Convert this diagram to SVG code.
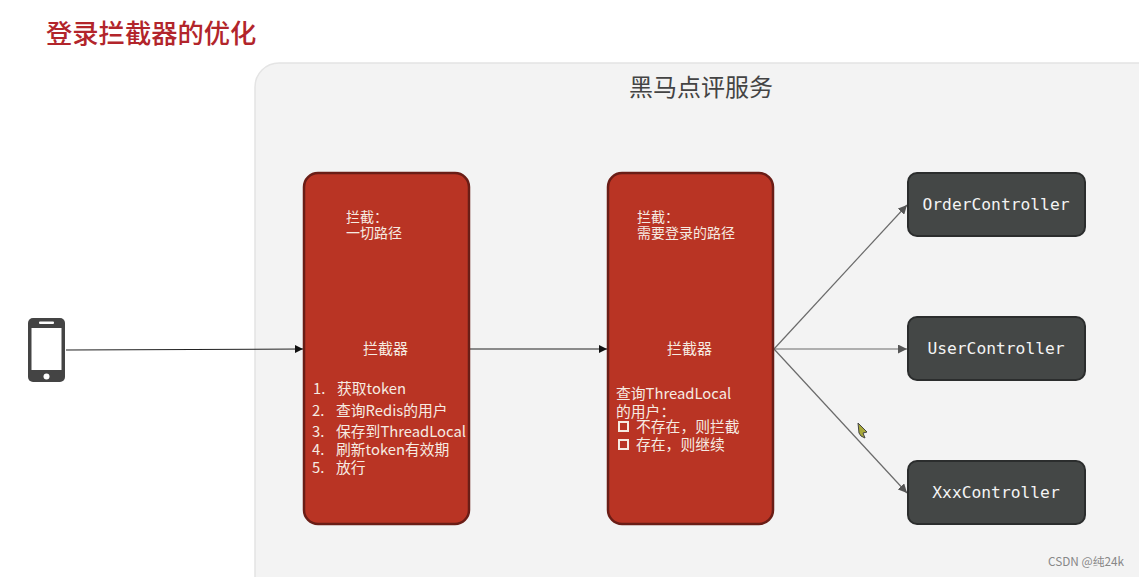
<svg xmlns="http://www.w3.org/2000/svg" width="1139" height="577" viewBox="0 0 1139 577">
<style>
text{font-family:"Noto Sans CJK SC","Noto Sans",sans-serif}
.r{fill:#b93424;stroke:#6a1d16;stroke-width:2.5}
.d{fill:#444746;stroke:#2b2d2d;stroke-width:2}
.w{fill:#f6ebe2;font-size:14px}
.b{fill:#f6ebe2;font-size:14.8px}
.h{fill:#f6ebe2;font-size:15px}
.m{fill:#f4f4f4;font-family:"DejaVu Sans Mono","Liberation Mono",monospace;font-size:16.300px;text-anchor:middle}
.l{fill:none;stroke:#6a6a6a;stroke-width:1.2}
.k{fill:none;stroke:#222;stroke-width:1.1}
.c{fill:none;stroke:#f6ebe2;stroke-width:2}
</style>
<defs>
<marker id="ab" markerWidth="9" markerHeight="8" refX="8" refY="4" orient="auto" markerUnits="userSpaceOnUse"><path d="M0 0L8 4L0 8Z" fill="#111"/></marker>
<marker id="ag" markerWidth="10" markerHeight="9" refX="9" refY="4.500" orient="auto" markerUnits="userSpaceOnUse"><path d="M0 0L9 4.500L0 9Z" fill="#555"/></marker>
</defs>
<rect width="1139" height="577" fill="#fff"/>
<rect x="255" y="63" width="920" height="540" rx="24" fill="#f3f3f3" stroke="#e4e4e4" stroke-width="1.500"/>
<text x="46" y="43" font-size="26.300" font-weight="500" fill="#b2252b">登录拦截器的优化</text>
<text x="629" y="96" font-size="24" fill="#444">黑马点评服务</text>
<g id="connectors">
<line class="k" x1="66" y1="350" x2="303" y2="349" marker-end="url(#ab)"/>
<line class="k" x1="470" y1="349" x2="607" y2="349" marker-end="url(#ab)"/>
<line class="l" x1="774" y1="349" x2="907" y2="205" marker-end="url(#ag)"/>
<line class="l" x1="774" y1="349" x2="907" y2="349" marker-end="url(#ag)"/>
<line class="l" x1="774" y1="349" x2="907" y2="493" marker-end="url(#ag)"/>
</g>
<g id="phone">
<rect x="28" y="318" width="37" height="64" rx="5" fill="#444"/>
<rect x="31.500" y="328" width="30" height="42" fill="#fff"/>
<rect x="39" y="321.500" width="15" height="2.500" rx="1" fill="#fff"/>
<circle cx="46.500" cy="376.500" r="3" fill="#fff"/>
</g>
<g id="interceptor1">
<rect class="r" x="304" y="173" width="165" height="351" rx="14"/>
<text class="w" x="346" y="222">拦截：<tspan x="346" dy="16">一切路径</tspan></text>
<text class="h" x="363" y="354">拦截器</text>
<text class="b"><tspan x="313" y="394">1.</tspan><tspan x="337" y="394">获取token</tspan></text>
<text class="b"><tspan x="312" y="416">2.</tspan><tspan x="336" y="416">查询Redis的用户</tspan></text>
<text class="b"><tspan x="312" y="437">3.</tspan><tspan x="336" y="437">保存到ThreadLocal</tspan></text>
<text class="b"><tspan x="312" y="455">4.</tspan><tspan x="336" y="455">刷新token有效期</tspan></text>
<text class="b"><tspan x="312" y="473">5.</tspan><tspan x="336" y="473">放行</tspan></text>
</g>
<g id="interceptor2">
<rect class="r" x="608" y="173" width="165" height="351" rx="14"/>
<text class="w" x="637" y="222">拦截：<tspan x="637" dy="16">需要登录的路径</tspan></text>
<text class="h" x="667" y="354">拦截器</text>
<text class="b" x="616" y="399">查询ThreadLocal<tspan x="616" dy="18">的用户：</tspan></text>
<rect class="c" x="619" y="422" width="9" height="9"/>
<text class="b" x="636" y="432">不存在，则拦截<tspan x="636" dy="18">存在，则继续</tspan></text>
<rect class="c" x="619" y="440" width="9" height="9"/>
</g>
<g id="orderController">
<rect class="d" x="908" y="173" width="177" height="63" rx="9"/>
<text class="m" x="996" y="210">OrderController</text>
</g>
<g id="userController">
<rect class="d" x="908" y="317" width="177" height="63" rx="9"/>
<text class="m" x="996" y="354">UserController</text>
</g>
<g id="xxxController">
<rect class="d" x="908" y="461" width="177" height="63" rx="9"/>
<text class="m" x="996" y="498">XxxController</text>
</g>
<path d="M858 423L867 432L863 433L865 438L861 436L859 433Z" fill="#a8a93a" stroke="#444" stroke-width="1"/>
<text x="1048" y="566" font-size="11.800" fill="#888">CSDN @纯24k</text>
</svg>
